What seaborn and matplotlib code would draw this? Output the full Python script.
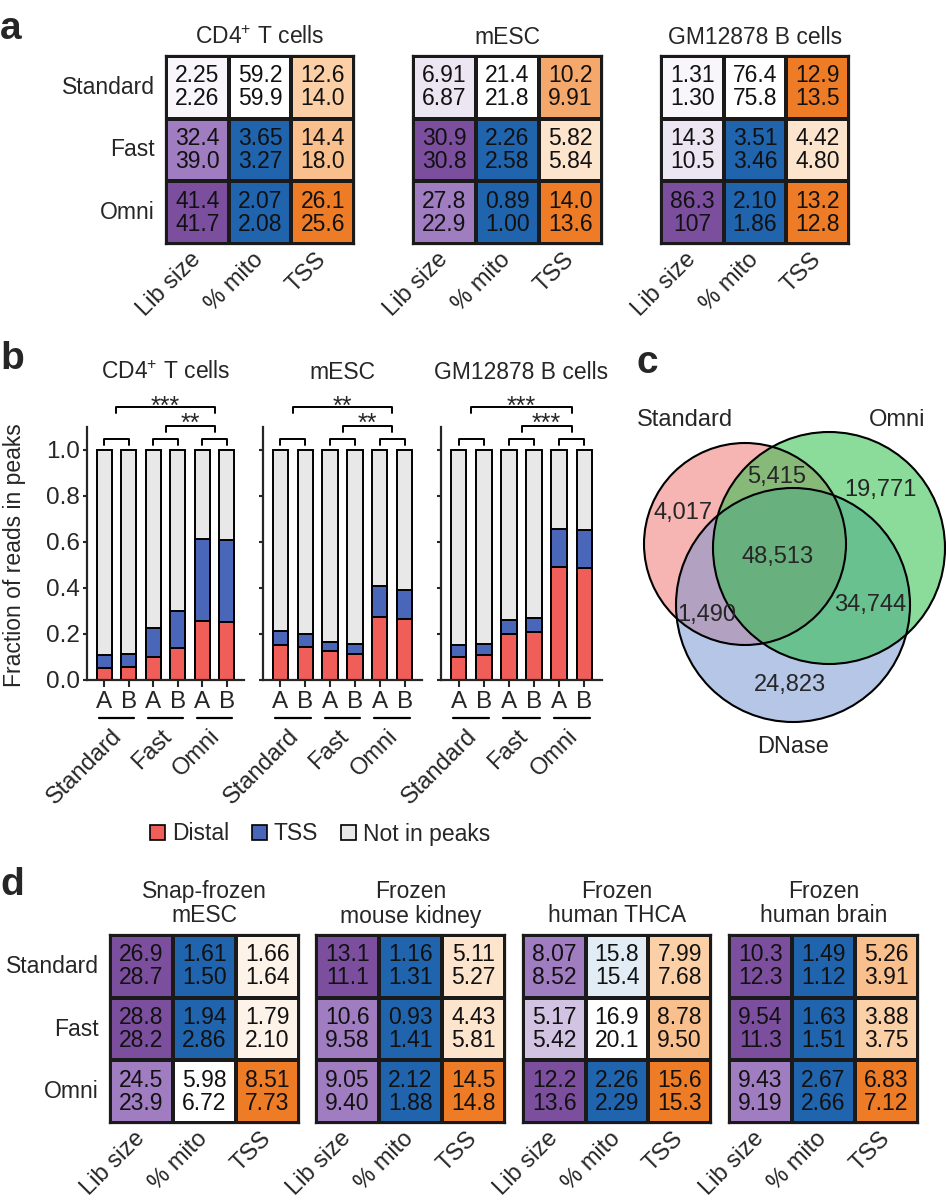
import numpy as np
import pandas as pd
import matplotlib
matplotlib.use('Agg')
import matplotlib.pyplot as plt
import matplotlib.transforms as mtransforms
import seaborn as sns
from matplotlib.colors import ListedColormap
from matplotlib.patches import Patch, Circle

# ============================================================================
# DATA
# ============================================================================
PROTOCOLS = ['Standard', 'Fast', 'Omni']
METRICS = ['Lib size', '% mito', 'TSS']

# panel a / d: top number = replicate 1, bottom number = replicate 2
# shade = colour level per cell (purple 0-4, blue 0-4, orange 0-5)
CD4_REP1 = [[2.25, 59.2, 12.6], [32.4, 3.65, 14.4], [41.4, 2.07, 26.1]]
CD4_REP2 = [[2.26, 59.9, 14.0], [39.0, 3.27, 18.0], [41.7, 2.08, 25.6]]
CD4_SHADE = [[0, 0, 2], [3, 4, 3], [4, 4, 5]]
MESC_REP1 = [[6.91, 21.4, 10.2], [30.9, 2.26, 5.82], [27.8, 0.89, 14.0]]
MESC_REP2 = [[6.87, 21.8, 9.91], [30.8, 2.58, 5.84], [22.9, 1.00, 13.6]]
MESC_SHADE = [[1, 0, 4], [4, 4, 1], [3, 4, 5]]
GM_REP1 = [[1.31, 76.4, 12.9], [14.3, 3.51, 4.42], [86.3, 2.10, 13.2]]
GM_REP2 = [[1.30, 75.8, 13.5], [10.5, 3.46, 4.80], [107, 1.86, 12.8]]
GM_SHADE = [[0, 0, 5], [1, 4, 1], [4, 4, 5]]

SNAP_REP1 = [[26.9, 1.61, 1.66], [28.8, 1.94, 1.79], [24.5, 5.98, 8.51]]
SNAP_REP2 = [[28.7, 1.50, 1.64], [28.2, 2.86, 2.10], [23.9, 6.72, 7.73]]
SNAP_SHADE = [[4, 4, 0], [4, 4, 0], [3, 0, 5]]
KIDNEY_REP1 = [[13.1, 1.16, 5.11], [10.6, 0.93, 4.43], [9.05, 2.12, 14.5]]
KIDNEY_REP2 = [[11.1, 1.31, 5.27], [9.58, 1.41, 5.81], [9.40, 1.88, 14.8]]
KIDNEY_SHADE = [[4, 4, 1], [3, 4, 1], [3, 4, 5]]
THCA_REP1 = [[8.07, 15.8, 7.99], [5.17, 16.9, 8.78], [12.2, 2.26, 15.6]]
THCA_REP2 = [[8.52, 15.4, 7.68], [5.42, 20.1, 9.50], [13.6, 2.29, 15.3]]
THCA_SHADE = [[3, 1, 2], [2, 0, 3], [4, 4, 5]]
BRAIN_REP1 = [[10.3, 1.49, 5.26], [9.54, 1.63, 3.88], [9.43, 2.67, 6.83]]
BRAIN_REP2 = [[12.3, 1.12, 3.91], [11.3, 1.51, 3.75], [9.19, 2.66, 7.12]]
BRAIN_SHADE = [[4, 4, 3], [4, 4, 2], [3, 4, 5]]

# panel b: fraction of reads (bars: Standard A/B, Fast A/B, Omni A/B)
BAR_LABELS = ['A', 'B', 'A', 'B', 'A', 'B']
CD4_DISTAL = [0.051, 0.055, 0.102, 0.138, 0.257, 0.254]
CD4_TSS = [0.058, 0.058, 0.123, 0.163, 0.356, 0.354]
MESC_DISTAL = [0.153, 0.142, 0.124, 0.112, 0.272, 0.265]
MESC_TSS = [0.058, 0.058, 0.043, 0.044, 0.135, 0.125]
GM_DISTAL = [0.102, 0.109, 0.200, 0.208, 0.490, 0.487]
GM_TSS = [0.051, 0.047, 0.062, 0.062, 0.167, 0.164]
CD4_STARS = ['***', '**']
MESC_STARS = ['**', '**']
GM_STARS = ['***', '***']

# panel c: peak overlap counts
VENN_SETS = ['Standard', 'Omni', 'DNase']
VENN_REGIONS = ['Standard only', 'Standard & Omni', 'Omni only', 'All three',
                'Standard & DNase', 'Omni & DNase', 'DNase only']
VENN_COUNTS = [4017, 5415, 19771, 48513, 1490, 34744, 24823]

# ============================================================================
# STYLE
# ============================================================================
sns.set_style('ticks')
plt.rcParams['font.family'] = ['Liberation Sans', 'DejaVu Sans']
plt.rcParams['mathtext.fontset'] = 'custom'
plt.rcParams['mathtext.rm'] = 'Liberation Sans'
plt.rcParams['mathtext.it'] = 'Liberation Sans:italic'
plt.rcParams['mathtext.bf'] = 'Liberation Sans:bold'

FS = 16.5
PURPLES = ['#F8F6FA', '#ECE6F2', '#D2C3E2', '#A07CC0', '#7B4F9E']
BLUES = ['#FFFFFF', '#E2ECF5', '#A9C8E4', '#5C93C9', '#1F64AD']
ORANGES = ['#FEF3E8', '#FDE4CD', '#FCD0A6', '#F9BF8D', '#F5A86B', '#EE7B25']
HEAT_CMAP = ListedColormap(PURPLES + BLUES + ORANGES)
OFFSETS = [0, len(PURPLES), len(PURPLES) + len(BLUES)]
RED, BLUE, GREY = '#EF5E58', '#4A66B8', '#E8E8E8'
CD4_TITLE = r'CD4$^{+}$ T cells'

W, H = 946, 1200


def px(left, top, width, height):
    return [left / W, 1 - (top + height) / H, width / W, height / H]


def fmt_val(v):
    if v < 10:
        return f'{v:.2f}'
    if v < 100:
        return f'{v:.1f}'
    return f'{v:.0f}'


def draw_heat(ax, rep1, rep2, shade, title, row_labels):
    codes = np.array(shade) + np.array(OFFSETS)
    annot = np.array([[fmt_val(a) + '\n' + fmt_val(b) for a, b in zip(r1, r2)]
                      for r1, r2 in zip(rep1, rep2)])
    df = pd.DataFrame(codes, index=PROTOCOLS, columns=METRICS)
    sns.heatmap(df, cmap=HEAT_CMAP, vmin=-0.5, vmax=len(HEAT_CMAP.colors) - 0.5,
                annot=annot, fmt='', cbar=False, linewidths=1.6, linecolor='#1a1a1a',
                annot_kws={'fontsize': FS, 'color': '#111111', 'linespacing': 1.0}, ax=ax)
    for s in ax.spines.values():
        s.set_visible(True)
        s.set_linewidth(1.6)
        s.set_color('#1a1a1a')
    ax.set_xlabel('')
    ax.set_ylabel('')
    ax.set_xticklabels(METRICS, rotation=45, ha='right', va='center',
                       rotation_mode='anchor', fontsize=17)
    ax.tick_params(axis='x', length=0, pad=9)
    if row_labels:
        ax.set_yticklabels(PROTOCOLS, rotation=0, fontsize=FS)
        ax.tick_params(axis='y', length=0, pad=8)
    else:
        ax.set_yticks([])
    ax.set_title(title, fontsize=FS, pad=9, linespacing=1.1)


def draw_bars(ax, distal, tss, stars, title, show_ylabels):
    pos = np.arange(len(distal))
    df = pd.DataFrame({'pos': pos, 'distal': distal, 'tss': tss})
    df['not_in'] = 1 - df['distal'] - df['tss']
    df['top_tss'] = df['distal'] + df['tss']
    df['top_all'] = df['top_tss'] + df['not_in']
    for col, c in [('top_all', GREY), ('top_tss', BLUE), ('distal', RED)]:
        sns.barplot(data=df, x='pos', y=col, color=c, edgecolor='black', linewidth=1.4,
                    width=0.62, saturation=1, errorbar=None, ax=ax)
    ax.set_xlim(-0.7, 5.7)
    ax.set_ylim(0, 1.1)
    ax.set_yticks([0, 0.2, 0.4, 0.6, 0.8, 1.0])
    if show_ylabels:
        ax.set_yticklabels(['0.0', '0.2', '0.4', '0.6', '0.8', '1.0'])
    else:
        ax.set_yticklabels([])
    ax.set_xticks(pos)
    ax.set_xticklabels(BAR_LABELS)
    ax.set_xlabel('')
    ax.set_ylabel('')
    sns.despine(ax=ax)
    for s in ['left', 'bottom']:
        ax.spines[s].set_linewidth(1.6)
    ax.tick_params(axis='y', length=3, width=1.5, pad=2, labelsize=17.5)
    ax.tick_params(axis='x', length=5, width=1.5, pad=3, labelsize=17.5)

    # pair brackets
    for k in range(3):
        a, b = 2 * k, 2 * k + 1
        ax.plot([a, a, b, b], [1.02, 1.05, 1.05, 1.02], color='black', lw=1.4,
                clip_on=False)
    # comparison brackets
    ax.plot([0.5, 0.5, 4.5, 4.5], [1.16, 1.188, 1.188, 1.16], color='black', lw=1.4,
            clip_on=False)
    ax.text(2.5, 1.159, stars[0], ha='center', va='baseline', fontsize=18)
    ax.plot([2.5, 2.5, 4.5, 4.5], [1.08, 1.105, 1.105, 1.08], color='black', lw=1.4,
            clip_on=False)
    ax.text(3.5, 1.085, stars[1], ha='center', va='baseline', fontsize=18)

    trans = mtransforms.blended_transform_factory(ax.transData, ax.transAxes)
    for k, grp in enumerate(PROTOCOLS):
        ax.plot([2 * k - 0.22, 2 * k + 1.22], [-0.15, -0.15], transform=trans,
                clip_on=False, color='black', lw=1.6)
        ax.text(2 * k + 0.6, -0.21, grp, transform=trans, rotation=45, ha='right',
                va='center', rotation_mode='anchor', fontsize=17)
    ax.text(0.5, 1.215, title, transform=ax.transAxes, ha='center', va='center',
            fontsize=FS)


fig = plt.figure(figsize=(W / 100, H / 100), dpi=100)

# ============================================================================
# PANEL A
# ============================================================================
draw_heat(fig.add_axes(px(166, 56, 188, 188)), CD4_REP1, CD4_REP2, CD4_SHADE,
          CD4_TITLE, True)
draw_heat(fig.add_axes(px(413, 56, 189, 188)), MESC_REP1, MESC_REP2, MESC_SHADE,
          'mESC', False)
draw_heat(fig.add_axes(px(661, 56, 188, 188)), GM_REP1, GM_REP2, GM_SHADE,
          'GM12878 B cells', False)

# ============================================================================
# PANEL B
# ============================================================================
draw_bars(fig.add_axes(px(87, 427, 157, 253)), CD4_DISTAL, CD4_TSS, CD4_STARS,
          CD4_TITLE, True)
draw_bars(fig.add_axes(px(263, 427, 159, 253)), MESC_DISTAL, MESC_TSS, MESC_STARS,
          'mESC', False)
draw_bars(fig.add_axes(px(441, 427, 161, 253)), GM_DISTAL, GM_TSS, GM_STARS,
          'GM12878 B cells', False)
fig.text(15 / W, 1 - 555 / H, 'Fraction of reads in peaks', rotation=90,
         ha='center', va='center', fontsize=FS)
legend_handles = [Patch(facecolor=RED, edgecolor='black', lw=1.2, label='Distal'),
                  Patch(facecolor=BLUE, edgecolor='black', lw=1.2, label='TSS'),
                  Patch(facecolor=GREY, edgecolor='black', lw=1.2, label='Not in peaks')]
fig.legend(handles=legend_handles, loc='center', bbox_to_anchor=(320 / W, 1 - 834 / H),
           ncol=3, frameon=False, fontsize=FS, handlelength=0.65, handleheight=0.65,
           handletextpad=0.3, columnspacing=1.0)

# ============================================================================
# PANEL C (Venn, axes in pixel coordinates)
# ============================================================================
axc = fig.add_axes(px(620, 340, 326, 430))
axc.set_xlim(620, 946)
axc.set_ylim(770, 340)
axc.axis('off')
venn_circles = [((745, 544), 101, '#EE6B69', 0.5),
                ((793, 605), 117, '#6F8FD0', 0.5),
                ((829, 548), 116, '#2DBE4A', 0.55)]
for center, r, color, alpha in venn_circles:
    axc.add_patch(Circle(center, r, facecolor=color, alpha=alpha, edgecolor='none'))
for center, r, color, alpha in venn_circles:
    axc.add_patch(Circle(center, r, fill=False, edgecolor='black', lw=1.5))
venn_label_xy = [(685, 420), (925, 420), (793, 747)]
venn_label_ha = ['center', 'right', 'center']
for name, (x, y), ha in zip(VENN_SETS, venn_label_xy, venn_label_ha):
    axc.text(x, y, name, ha=ha, va='center', fontsize=17)
venn_count_xy = [(683, 513), (777, 477), (880, 490), (778, 557), (707, 615),
                 (870, 605), (790, 685)]
for n, (x, y) in zip(VENN_COUNTS, venn_count_xy):
    axc.text(x, y, f'{n:,}', ha='center', va='center', fontsize=17)

# ============================================================================
# PANEL D
# ============================================================================
draw_heat(fig.add_axes(px(110, 935, 189, 188)), SNAP_REP1, SNAP_REP2, SNAP_SHADE,
          'Snap-frozen\nmESC', True)
draw_heat(fig.add_axes(px(316, 935, 189, 188)), KIDNEY_REP1, KIDNEY_REP2, KIDNEY_SHADE,
          'Frozen\nmouse kidney', False)
draw_heat(fig.add_axes(px(523, 935, 188, 188)), THCA_REP1, THCA_REP2, THCA_SHADE,
          'Frozen\nhuman THCA', False)
draw_heat(fig.add_axes(px(729, 935, 189, 188)), BRAIN_REP1, BRAIN_REP2, BRAIN_SHADE,
          'Frozen\nhuman brain', False)

# panel letters
for letter, x, y in [('a', 0, 39), ('b', 0, 369), ('c', 636, 373), ('d', 0, 895)]:
    fig.text(x / W, 1 - y / H, letter, fontsize=28, fontweight='bold',
             ha='left', va='baseline')

fig.savefig('out.png', dpi=100, facecolor='white')
